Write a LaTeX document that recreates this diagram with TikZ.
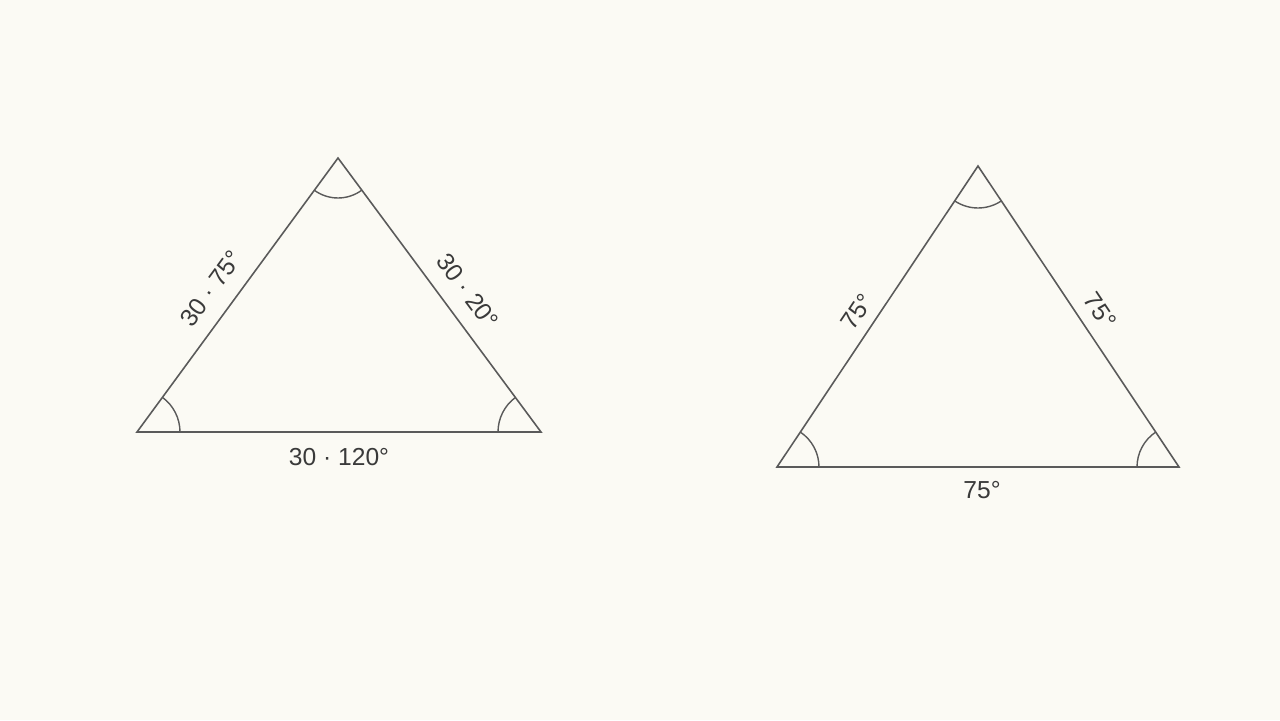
\documentclass[tikz,border=0pt]{standalone}
\usepackage{fontspec}
\setmainfont{Liberation Sans}
\usepackage{xcolor}
\definecolor{paperbg}{HTML}{FBFAF4}
\definecolor{edgegray}{HTML}{5A5A5A}
\definecolor{labelgray}{HTML}{3A3A3A}
\usetikzlibrary{angles, positioning}

\begin{document}
\begin{tikzpicture}[
    x=0.02cm, y=-0.02cm,
    side/.style={draw=edgegray, line width=0.9pt, line join=miter},
    anglearc/.style={draw=edgegray, line width=0.8pt},
    lbl/.style={font=\fontsize{14}{16}\selectfont, text=labelgray, inner sep=2pt}
]

% Background
\fill[paperbg] (0,0) rectangle (1280,720);

% Triangle 1
\coordinate (A) at (137,432);
\coordinate (B) at (541,432);
\coordinate (C) at (338,158);
\draw[side] (A) -- (B) -- (C) -- cycle;
\pic[anglearc, angle radius=0.86cm] {angle=B--A--C};
\pic[anglearc, angle radius=0.86cm] {angle=C--B--A};
\pic[anglearc, angle radius=0.80cm] {angle=A--C--B};
\path (A) -- (C) node[lbl, pos=0.47, sloped, above=7pt] (labAC) {30 · 75°};
\path (C) -- (B) node[lbl, pos=0.54, sloped, above=7pt] (labCB) {30 · 20°};
\path (A) -- (B) node[lbl, pos=0.5, below=7pt] (labAB) {30 · 120°};

% Triangle 2
\coordinate (D) at (777,467);
\coordinate (E) at (1179,467);
\coordinate (F) at (978,166);
\draw[side] (D) -- (E) -- (F) -- cycle;
\pic[anglearc, angle radius=0.84cm] {angle=E--D--F};
\pic[anglearc, angle radius=0.84cm] {angle=F--E--D};
\pic[anglearc, angle radius=0.84cm] {angle=D--F--E};
\path (D) -- (F) node[lbl, pos=0.48, sloped, above=4pt] (labDF) {75°};
\path (F) -- (E) node[lbl, pos=0.52, sloped, above=5pt] (labFE) {75°};
\path (D) -- (E) node[lbl, pos=0.51, below=6pt] (labDE) {75°};

\end{tikzpicture}
\end{document}
